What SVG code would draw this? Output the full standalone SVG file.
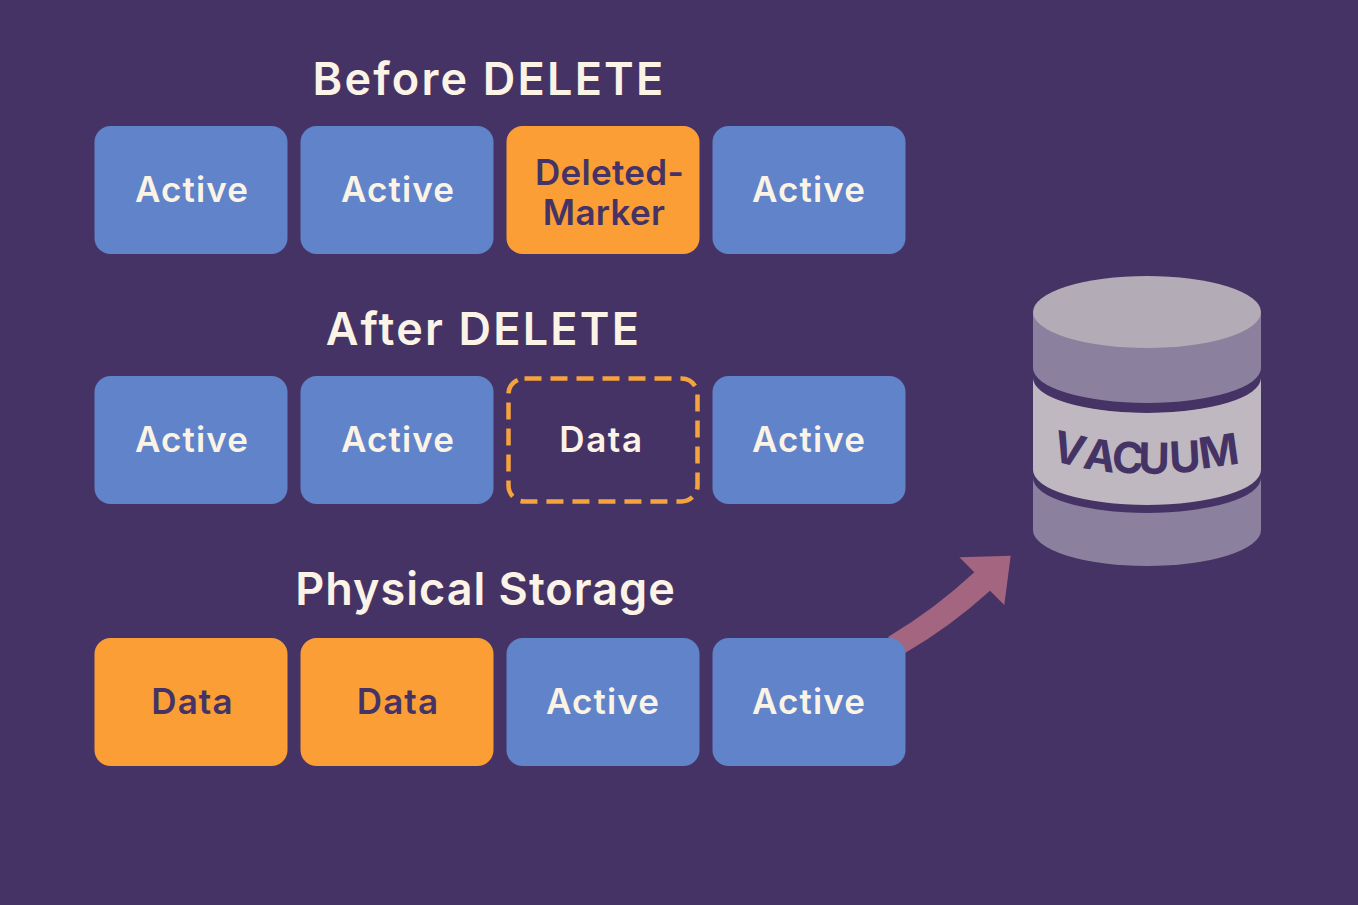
<svg xmlns="http://www.w3.org/2000/svg" width="1358" height="905" viewBox="0 0 1358 905">
<style>
text{font-family:"Inter","Noto Sans","Liberation Sans",sans-serif;text-anchor:middle}
.title{font-size:45px;font-weight:600;fill:#FBF3E6;letter-spacing:2.2px}
.lbl{font-size:35px;font-weight:600;letter-spacing:1.1px}
.tight{letter-spacing:.3px}
.wide{letter-spacing:1.6px}
.lt{fill:#FBF3E6}
.dk{fill:#453366}
.blue{fill:#6083C9}
.orange{fill:#FC9E36}
</style>
<defs>
<rect id="box" width="193" height="128" rx="16"/>
</defs>
<rect width="1358" height="905" fill="#453366"/>
<g id="connectors">
<path d="M888 637Q935 609 974.3 572.3L959.3 557.3L1010.7 555.7L1004.3 605L990 590.7Q950 627 905 653Z" fill="#A3657F"/>
</g>
<g id="title-before"><text class="title" x="489" y="95">Before DELETE</text></g>
<g id="title-after"><text class="title" x="483.5" y="345">After DELETE</text></g>
<g id="title-physical"><text class="title" x="485.5" y="605" style="letter-spacing:1px">Physical Storage</text></g>
<g id="b1"><use href="#box" class="blue" x="94.5" y="126"/><text class="lbl lt" x="192" y="202">Active</text></g>
<g id="b2"><use href="#box" class="blue" x="300.5" y="126"/><text class="lbl lt" x="398" y="202">Active</text></g>
<g id="b3"><use href="#box" class="orange" x="506.5" y="126"/><text class="lbl dk tight" x="609.5" y="185">Deleted-</text><text class="lbl dk tight" x="604" y="225">Marker</text></g>
<g id="b4"><use href="#box" class="blue" x="712.5" y="126"/><text class="lbl lt" x="809" y="202">Active</text></g>
<g id="a1"><use href="#box" class="blue" x="94.5" y="376"/><text class="lbl lt" x="192" y="452">Active</text></g>
<g id="a2"><use href="#box" class="blue" x="300.5" y="376"/><text class="lbl lt" x="398" y="452">Active</text></g>
<g id="a3"><rect x="508.5" y="378.5" width="189" height="123" rx="16" fill="none" stroke="#F5A33C" stroke-width="4.5" stroke-dasharray="17 9"/><text class="lbl lt wide" x="601.5" y="452">Data</text></g>
<g id="a4"><use href="#box" class="blue" x="712.5" y="376"/><text class="lbl lt" x="809" y="452">Active</text></g>
<g id="p1"><use href="#box" class="orange" x="94.5" y="638"/><text class="lbl dk" x="192.5" y="714">Data</text></g>
<g id="p2"><use href="#box" class="orange" x="300.5" y="638"/><text class="lbl dk" x="398" y="714">Data</text></g>
<g id="p3"><use href="#box" class="blue" x="506.5" y="638"/><text class="lbl lt" x="603" y="714">Active</text></g>
<g id="p4"><use href="#box" class="blue" x="712.5" y="638"/><text class="lbl lt" x="809" y="714">Active</text></g>
<g id="vacuum">
<path d="M1033 312V530A114 36 0 0 0 1261 530V312Z" fill="#8B819F"/>
<path d="M1033 368A114 35 0 0 0 1261 368V380A114 33 0 0 1 1033 380Z" fill="#453366"/>
<path d="M1033 378A114 35 0 0 0 1261 378V473A114 36 0 0 1 1033 473Z" fill="#BFB8C0"/>
<path d="M1033 470A114 35 0 0 0 1261 470V478A114 35 0 0 1 1033 478Z" fill="#453366"/>
<ellipse cx="1147" cy="312" rx="114" ry="36" fill="#B3ABB5"/>
<text style="text-anchor:start" font-size="43" font-weight="700" fill="#453366" x="1050 1082 1111 1138 1170 1201" y="460 468 472 473.5 473 469" rotate="14 9 4 1 -3 -8">VACUUM</text>
</g>
</svg>
